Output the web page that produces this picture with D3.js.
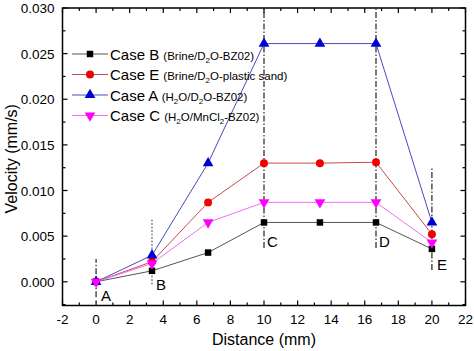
<!DOCTYPE html>
<html><head><meta charset="utf-8">
<script src="https://cdn.jsdelivr.net/npm/d3@7"></script>
<style>body{margin:0;background:#fff}svg{display:block}text{font-family:"Liberation Sans",Arial,sans-serif}</style>
</head><body><svg id="c" width="474" height="351"></svg>
<script>
const distance = [0, 3.33, 6.67, 10, 13.33, 16.67, 20];
const caseB = [0, 0.0012, 0.0032, 0.0065, 0.0065, 0.0065, 0.0036];
const caseE = [0, 0.0022, 0.0087, 0.0130, 0.0130, 0.0131, 0.0052];
const caseA = [0, 0.0029, 0.0130, 0.0261, 0.0261, 0.0261, 0.0065];
const caseC = [0, 0.0020, 0.0065, 0.0087, 0.0087, 0.0087, 0.0043];
const seriesNames = ["Case B", "Case E", "Case A", "Case C"];
const xTicks = [-2, 0, 2, 4, 6, 8, 10, 12, 14, 16, 18, 20, 22];
const yTicks = [0, 0.005, 0.010, 0.015, 0.020, 0.025, 0.030];
const markerLines = [
  {x: 0, y0: -0.0017, y1: 0.0025, label: "A"},
  {x: 3.33, y0: -0.0003, y1: 0.0070, label: "B"},
  {x: 10, y0: 0.0037, y1: 0.030, label: "C"},
  {x: 16.67, y0: 0.0037, y1: 0.030, label: "D"},
  {x: 20, y0: 0.0013, y1: 0.0125, label: "E"}
];

const series = [
  {name: "Case B", vals: caseB, sub: [["(Brine/D",""],["2","s"],["O-BZ02)",""]], line: "#555", fill: "#000", sym: d3.symbolSquare},
  {name: "Case E", vals: caseE, sub: [["(Brine/D",""],["2","s"],["O-plastic sand)",""]], line: "#c84a4a", fill: "#f00000", sym: d3.symbolCircle},
  {name: "Case A", vals: caseA, sub: [["(H",""],["2","s"],["O/D",""],["2","s"],["O-BZ02)",""]], line: "#4a4ac0", fill: "#0000d0", sym: d3.symbolTriangle},
  {name: "Case C", vals: caseC, sub: [["(H",""],["2","s"],["O/MnCl",""],["2","s"],["-BZ02)",""]], line: "#f070f0", fill: "#ff00ff", sym: "down"}
];

const L = 62.5, R = 465.5, T = 8, B = 305.5;
const x = d3.scaleLinear().domain([-2, 22]).range([L, R]);
const y = d3.scaleLinear().domain([-0.0026, 0.030]).range([B, T]);
const svg = d3.select("#c");

const minorX = d3.range(-1, 22, 2);
const minorY = d3.range(-0.0025, 0.0301, 0.005);
const axG = svg.append("g").attr("stroke", "#000").attr("stroke-width", 1.2);
xTicks.forEach(v => {
  axG.append("line").attr("x1", x(v)).attr("x2", x(v)).attr("y1", B).attr("y2", B - 5);
  axG.append("line").attr("x1", x(v)).attr("x2", x(v)).attr("y1", T).attr("y2", T + 5);
});
minorX.forEach(v => {
  axG.append("line").attr("x1", x(v)).attr("x2", x(v)).attr("y1", B).attr("y2", B - 3);
  axG.append("line").attr("x1", x(v)).attr("x2", x(v)).attr("y1", T).attr("y2", T + 3);
});
yTicks.forEach(v => {
  axG.append("line").attr("x1", L).attr("x2", L + 5).attr("y1", y(v)).attr("y2", y(v));
  axG.append("line").attr("x1", R).attr("x2", R - 5).attr("y1", y(v)).attr("y2", y(v));
});
minorY.forEach(v => {
  axG.append("line").attr("x1", L).attr("x2", L + 3).attr("y1", y(v)).attr("y2", y(v));
  axG.append("line").attr("x1", R).attr("x2", R - 3).attr("y1", y(v)).attr("y2", y(v));
});
svg.append("rect").attr("x", L).attr("y", T).attr("width", R - L).attr("height", B - T)
  .attr("fill", "none").attr("stroke", "#000").attr("stroke-width", 1.5);

svg.append("g").selectAll("text").data(xTicks).join("text")
  .attr("x", d => x(d)).attr("y", B + 18.5).attr("text-anchor", "middle")
  .attr("font-size", 13.5).text(d => d);
svg.append("g").selectAll("text").data(yTicks).join("text")
  .attr("x", L - 8).attr("y", d => y(d) + 5).attr("text-anchor", "end")
  .attr("font-size", 13.5).text(d => d3.format(".3f")(d));

svg.append("text").attr("x", x(10)).attr("y", 345).attr("text-anchor", "middle")
  .attr("font-size", 16).text("Distance (mm)");
svg.append("text").attr("transform", `translate(17,${(T + B) / 2 + 2}) rotate(-90)`)
  .attr("text-anchor", "middle").attr("font-size", 16).text("Velocity (mm/s)");

const vg = svg.append("g");
markerLines.forEach(m => {
  vg.append("line").attr("x1", x(m.x)).attr("x2", x(m.x)).attr("y1", y(m.y0)).attr("y2", y(m.y1))
    .attr("stroke", "#222").attr("stroke-width", m.label === "B" ? 0.8 : 1.2)
    .attr("stroke-dasharray", m.label === "B" ? "2,1.5" : "6,2,1.5,2");
});
const lbl = {A: [x(0) + 5, y(-0.0015)], B: [x(3.33) + 4, y(-0.0002)], C: [x(10) + 3, y(0.0045)], D: [x(16.67) + 3, y(0.0045)], E: [x(20) + 5, y(0.0019)]};
markerLines.forEach(m => {
  vg.append("text").attr("x", lbl[m.label][0]).attr("y", lbl[m.label][1] + 6)
    .attr("font-size", 15).text(m.label);
});

function sym(s, size) {
  if (s === "down") return d3.symbol(d3.symbolTriangle, size)();
  return d3.symbol(s, size)();
}
const line = d3.line().x((d, i) => x(distance[i])).y(d => y(d));
series.forEach(s => {
  svg.append("path").attr("d", line(s.vals)).attr("fill", "none").attr("stroke", s.line).attr("stroke-width", 1);
});
series.forEach(s => {
  svg.append("g").selectAll("path").data(s.vals).join("path")
    .attr("transform", (d, i) => `translate(${x(distance[i])},${y(d)})` + (s.sym === "down" ? " rotate(180)" : ""))
    .attr("d", sym(s.sym, s.sym === d3.symbolSquare ? 42 : 50)).attr("fill", s.fill);
});

const lg = svg.append("g");
series.forEach((s, i) => {
  const yy = 54 + i * 20.5;
  lg.append("line").attr("x1", 72).attr("x2", 108).attr("y1", yy).attr("y2", yy).attr("stroke", s.line).attr("stroke-width", 1);
  lg.append("path").attr("transform", `translate(90,${yy})` + (s.sym === "down" ? " rotate(180)" : ""))
    .attr("d", sym(s.sym, s.sym === d3.symbolSquare ? 42 : 50)).attr("fill", s.fill);
  const t = lg.append("text").attr("x", 110).attr("y", yy + 5.5).attr("font-size", 15);
  t.append("tspan").text(s.name + " ");
  s.sub.forEach(p => {
    const sp = t.append("tspan").attr("font-size", p[1] === "s" ? 8 : 11.5).text(p[0]);
    if (p[1] === "s") sp.attr("dy", 3);
    else if (sp.node().previousSibling && sp.node().previousSibling.getAttribute("dy") === "3") sp.attr("dy", -3);
  });
});
</script></body></html>
